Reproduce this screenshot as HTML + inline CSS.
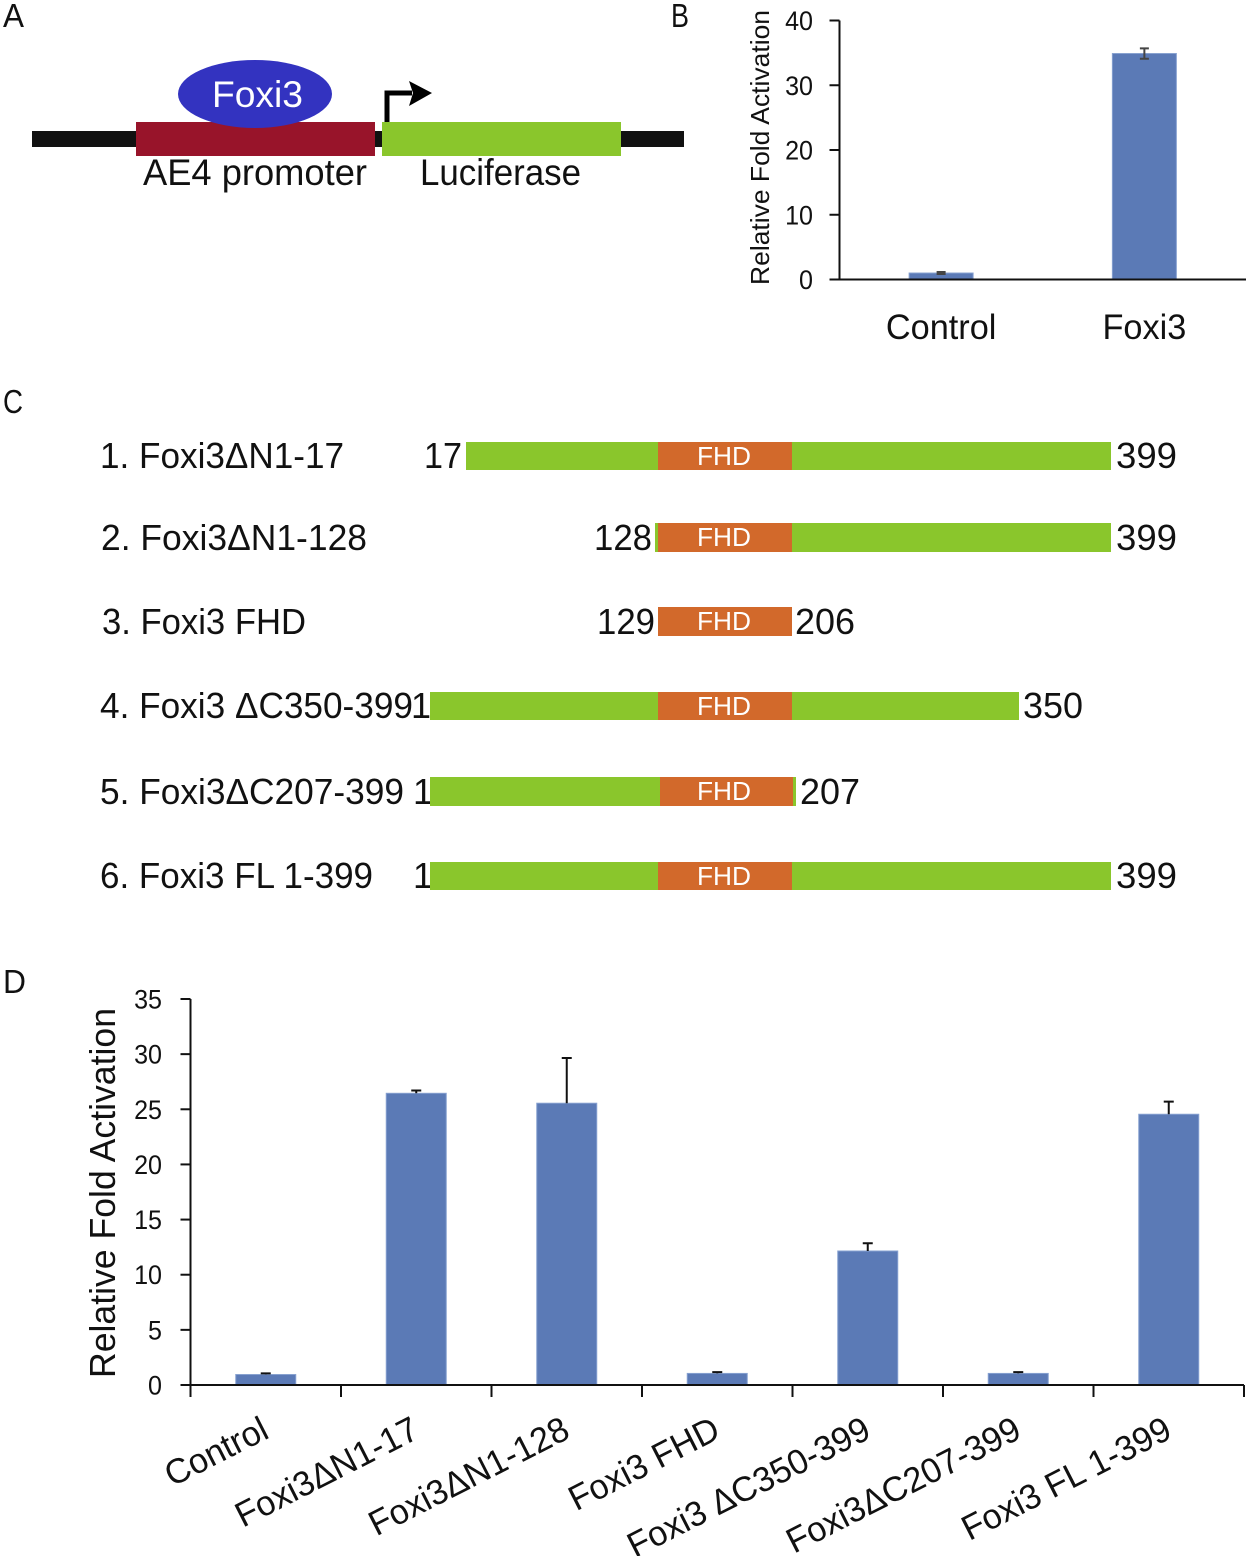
<!DOCTYPE html>
<html>
<head>
<meta charset="utf-8">
<title>Foxi3 activation of the AE4 promoter</title>
<style>
html,body{margin:0;padding:0;background:#fff;width:1250px;height:1556px;overflow:hidden}
svg{display:block}
text{font-family:"Liberation Sans","DejaVu Sans",sans-serif;fill:#111}
</style>
</head>
<body>
<svg id="fig" width="1250" height="1556" viewBox="0 0 1250 1556" xmlns="http://www.w3.org/2000/svg">
<g font-size="33">
<text x="3" y="27" textLength="21" lengthAdjust="spacingAndGlyphs">A</text>
<text x="671" y="27" textLength="18" lengthAdjust="spacingAndGlyphs">B</text>
<text x="3" y="413" textLength="20" lengthAdjust="spacingAndGlyphs">C</text>
<text x="3" y="993" textLength="23" lengthAdjust="spacingAndGlyphs">D</text>
</g>

<g>
<rect x="32" y="131" width="652" height="16" fill="#111"/>
<rect x="136" y="122" width="239" height="34" fill="#98142a"/>
<rect x="382" y="122" width="239" height="34" fill="#8ac62c"/>
<ellipse cx="255" cy="94" rx="77" ry="34" fill="#3333c0"/>
<text x="212" y="107" font-size="37" textLength="91" lengthAdjust="spacingAndGlyphs" style="fill:#fff">Foxi3</text>
<path d="M387 122V93H412" fill="none" stroke="#000" stroke-width="5"/>
<polygon points="409,81 432,93 409,106 413,93" fill="#000"/>
<text x="143" y="185" font-size="37" textLength="224" lengthAdjust="spacingAndGlyphs">AE4 promoter</text>
<text x="420" y="185" font-size="37" textLength="161" lengthAdjust="spacingAndGlyphs">Luciferase</text>
</g>

<g id="chartB"></g>

<g font-size="36">
<g>
<text x="100" y="468" textLength="244" lengthAdjust="spacingAndGlyphs">1. Foxi3ΔN1-17</text>
<text x="424" y="468" textLength="38" lengthAdjust="spacingAndGlyphs">17</text>
<rect x="466" y="442" width="645" height="28" fill="#8ac62c"/>
<rect x="658" y="442" width="134" height="28" fill="#d2692b"/>
<text x="697" y="465" font-size="26" textLength="54" lengthAdjust="spacingAndGlyphs" style="fill:#fff">FHD</text>
<text x="1116" y="468" textLength="61" lengthAdjust="spacingAndGlyphs">399</text>
</g>
<g>
<text x="101" y="550" textLength="266" lengthAdjust="spacingAndGlyphs">2. Foxi3ΔN1-128</text>
<text x="594" y="550" textLength="58" lengthAdjust="spacingAndGlyphs">128</text>
<rect x="655" y="523" width="456" height="29" fill="#8ac62c"/>
<rect x="658" y="523" width="134" height="29" fill="#d2692b"/>
<text x="697" y="546" font-size="26" textLength="54" lengthAdjust="spacingAndGlyphs" style="fill:#fff">FHD</text>
<text x="1116" y="550" textLength="61" lengthAdjust="spacingAndGlyphs">399</text>
</g>
<g>
<text x="102" y="634" textLength="204" lengthAdjust="spacingAndGlyphs">3. Foxi3 FHD</text>
<text x="597" y="634" textLength="58" lengthAdjust="spacingAndGlyphs">129</text>
<rect x="658" y="607" width="134" height="29" fill="#d2692b"/>
<text x="697" y="630" font-size="26" textLength="54" lengthAdjust="spacingAndGlyphs" style="fill:#fff">FHD</text>
<text x="795" y="634" textLength="60" lengthAdjust="spacingAndGlyphs">206</text>
</g>
<g>
<text x="100" y="718" textLength="313" lengthAdjust="spacingAndGlyphs">4. Foxi3 ΔC350-399</text>
<text x="411" y="718">1</text>
<rect x="430" y="692" width="589" height="28" fill="#8ac62c"/>
<rect x="658" y="692" width="134" height="28" fill="#d2692b"/>
<text x="697" y="715" font-size="26" textLength="54" lengthAdjust="spacingAndGlyphs" style="fill:#fff">FHD</text>
<text x="1023" y="718" textLength="60" lengthAdjust="spacingAndGlyphs">350</text>
</g>
<g>
<text x="100" y="804" textLength="304" lengthAdjust="spacingAndGlyphs">5. Foxi3ΔC207-399</text>
<text x="413" y="804">1</text>
<rect x="430" y="777" width="366" height="29" fill="#8ac62c"/>
<rect x="660" y="777" width="133" height="29" fill="#d2692b"/>
<text x="697" y="800" font-size="26" textLength="54" lengthAdjust="spacingAndGlyphs" style="fill:#fff">FHD</text>
<text x="800" y="804" textLength="60" lengthAdjust="spacingAndGlyphs">207</text>
</g>
<g>
<text x="100" y="888" textLength="273" lengthAdjust="spacingAndGlyphs">6. Foxi3 FL 1-399</text>
<text x="413" y="888">1</text>
<rect x="430" y="862" width="681" height="28" fill="#8ac62c"/>
<rect x="658" y="862" width="134" height="28" fill="#d2692b"/>
<text x="697" y="885" font-size="26" textLength="54" lengthAdjust="spacingAndGlyphs" style="fill:#fff">FHD</text>
<text x="1116" y="888" textLength="61" lengthAdjust="spacingAndGlyphs">399</text>
</g>
</g>

<g id="chartD"></g>
</svg>

<script>
const bCategories = ['Control', 'Foxi3'];
const bValues = [1.0, 34.9];
const bErrors = [0.15, 0.8];
const bTicks = [0, 10, 20, 30, 40];

const dCategories = ['Control', 'Foxi3ΔN1-17', 'Foxi3ΔN1-128', 'Foxi3 FHD', 'Foxi3 ΔC350-399', 'Foxi3ΔC207-399', 'Foxi3 FL 1-399'];
const dValues = [0.95, 26.45, 25.55, 1.05, 12.15, 1.05, 24.55];
const dErrors = [0.1, 0.25, 4.1, 0.12, 0.7, 0.12, 1.15];
const dTicks = [0, 5, 10, 15, 20, 25, 30, 35];

const NS = 'http://www.w3.org/2000/svg';
function mk(parent, tag, attrs, txt) {
  const el = document.createElementNS(NS, tag);
  for (const k in attrs) el.setAttribute(k, attrs[k]);
  if (txt !== undefined) el.textContent = txt;
  parent.appendChild(el);
  return el;
}
function slug(s) {
  return s.toLowerCase().replace(/δ/g, 'delta-').replace(/[^a-z0-9]+/g, '-');
}

function drawChart(root, o) {
  const y = v => o.y0 - (v / o.yMax) * (o.y0 - o.yTop);
  const step = (o.x1 - o.x0) / o.categories.length;
  const cx = i => o.x0 + step * (i + 0.5);

  o.values.forEach((v, i) => {
    const bar = mk(root, 'rect', {x: cx(i) - o.barW / 2, y: y(v), width: o.barW, height: o.y0 - y(v), fill: '#5b7ab6', stroke: '#86a0d0', 'stroke-width': 1});
    
    

    const hi = y(v + o.errors[i]);
    const lo = o.errLower ? y(v - o.errors[i]) : y(v);
    const err = mk(root, 'path', {d: 'M' + (cx(i) - o.cap) + ' ' + hi + 'H' + (cx(i) + o.cap) + 'M' + cx(i) + ' ' + hi + 'V' + lo + (o.errLower ? 'M' + (cx(i) - o.cap) + ' ' + lo + 'H' + (cx(i) + o.cap) : ''), fill: 'none', stroke: o.errColor, 'stroke-width': 2});
    
    
  });

  const yAxis = mk(root, 'line', {x1: o.x0, x2: o.x0, y1: o.yTop, y2: o.y0 + (o.xTicks ? o.xTickLen : 0), stroke: '#111', 'stroke-width': 2});
  
  

  const xAxis = mk(root, 'line', {x1: o.x0, x2: o.x1 + o.xExtra, y1: o.y0, y2: o.y0, stroke: '#111', 'stroke-width': 2});
  
  

  o.ticks.forEach(t => {
    const tk = mk(root, 'line', {x1: o.x0 - 10, x2: o.x0, y1: y(t), y2: y(t), stroke: '#111', 'stroke-width': 2});
    
    

    const lb = mk(root, 'text', {transform: 'translate(' + o.yLabelX + ' ' + (y(t) + o.yLabelDy) + ') scale(0.93 1)', 'text-anchor': 'end', 'font-size': o.yLabelSize}, String(t));
    
    
  });

  if (o.xTicks) {
    for (let i = 1; i <= o.categories.length; i++) {
      const px = o.x0 + step * i;
      const tk = mk(root, 'line', {x1: px, x2: px, y1: o.y0, y2: o.y0 + o.xTickLen, stroke: '#111', 'stroke-width': 2});
      
      
    }
  }

  o.categories.forEach((c, i) => {
    const attrs = o.rotate
      ? {transform: 'translate(' + (cx(i) + o.labelDx) + ' ' + o.labelY + ') rotate(' + o.rotate + ') scale(' + o.labelSx + ' 1)', 'text-anchor': 'end', 'font-size': o.labelSize}
      : {transform: 'translate(' + cx(i) + ' ' + o.labelY + ') scale(' + o.labelSx + ' 1)', 'text-anchor': 'middle', 'font-size': o.labelSize};
    const lb = mk(root, 'text', attrs, c);
    
    
  });

  const title = mk(root, 'text', {transform: 'translate(' + o.titleX + ' ' + o.titleY + ') rotate(-90)', 'font-size': o.titleSize, textLength: o.titleLen, lengthAdjust: 'spacingAndGlyphs'}, 'Relative Fold Activation');
  
  
}

drawChart(document.getElementById('chartB'), {
  categories: bCategories, values: bValues, errors: bErrors, ticks: bTicks,
  x0: 839.5, x1: 1246, xExtra: 0, y0: 279.5, yTop: 20.5, yMax: 40,
  barW: 64, cap: 4.5, errLower: true, errColor: '#444',
  yLabelX: 813, yLabelDy: 9.5, yLabelSize: 27,
  xTicks: false, labelY: 339, labelSize: 35, labelSx: 0.98,
  titleX: 769, titleY: 285, titleSize: 26, titleLen: 275
});

drawChart(document.getElementById('chartD'), {
  categories: dCategories, values: dValues, errors: dErrors, ticks: dTicks,
  x0: 190.5, x1: 1244, xExtra: 0, y0: 1385, yTop: 999, yMax: 35,
  barW: 60, cap: 5, errLower: false, errColor: '#111',
  yLabelX: 162, yLabelDy: 9.5, yLabelSize: 27,
  xTicks: true, xTickLen: 12,
  rotate: -27, labelDx: 5, labelY: 1437, labelSize: 35, labelSx: 0.98,
  titleX: 115, titleY: 1378, titleSize: 36, titleLen: 370
});
</script>
</body>
</html>
